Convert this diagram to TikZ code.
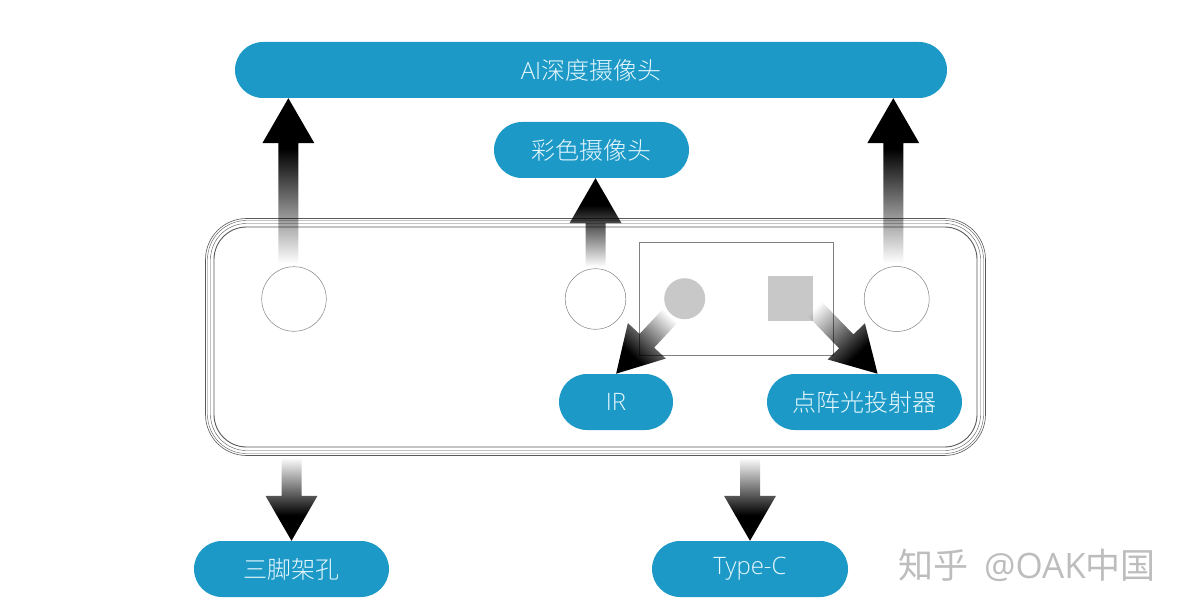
\documentclass[tikz,border=0pt]{standalone}
\usepackage{fontspec}
\usetikzlibrary{calc,shapes.misc}
\setmainfont{Noto Sans CJK SC Light}
\newfontfamily\markfont{Noto Sans CJK SC}
\newfontfamily\latinfont{Open Sans Light}
\newfontfamily\marklatin{Open Sans}
\definecolor{pillblue}{HTML}{1C99C7}
\definecolor{partgray}{HTML}{C8C8C8}
\definecolor{markgray}{HTML}{BDBDBD}
\pgfdeclarehorizontalshading{arrowfade}{100bp}{color(0bp)=(white); color(26bp)=(white); color(60bp)=(black); color(100bp)=(black)}
\tikzset{
	pill/.style={rounded rectangle,fill=pillblue,text=white!90!cyan,minimum height=56pt,inner sep=0pt,font=\fontsize{24}{24}\selectfont},
	hole/.style={circle,draw=gray,line width=.5pt,inner sep=0pt},
	shell/.style={draw=black!65,inner sep=0pt}
}
\newcommand{\fadearrow}[2]{
	\path let \p1=($(#2)-(#1)$),\n1={atan2(\y1,\x1)},\n2={veclen(\x1,\y1)} in \pgfextra{\xdef\arrowang{\n1}\xdef\arrowlen{\n2}};
	\pgfmathsetmacro\arrowbase{\arrowlen-45}
	\begin{scope}[blend mode=multiply,transform canvas={shift={(#1)},rotate=\arrowang}]
		\shade[shading=arrowfade,x=1pt,y=1pt] (0,-10) -- (\arrowbase,-10) -- (\arrowbase,-26) -- (\arrowlen,0) -- (\arrowbase,26) -- (\arrowbase,10) -- (0,10) -- cycle;
	\end{scope}
}
\begin{document}
\begin{tikzpicture}[x=1pt,y=-1pt]
	\useasboundingbox (0,0) rectangle (1182,612);
	% outer shell
	\foreach \n/\inset/\rad/\wid in {0/0/41/.6,1/2/39/.4,2/5/36/.4,3/8.5/32.5/.9}
		\node[shell,line width=\wid pt,rounded corners=\rad pt,minimum width={780pt-2*\inset pt},minimum height={237pt-2*\inset pt}] (body\n) at (595.5,337) {};
	\node[draw=gray,line width=.5pt,inner sep=0pt,minimum width=193.5pt,minimum height=113pt] (module) at (736,298.8) {};
	\node[hole,minimum size=64.6pt] (leftcam) at (294,299) {};
	\node[hole,minimum size=60.6pt] (midcam) at (595.5,299) {};
	\node[hole,minimum size=65pt] (rightcam) at (896.7,299) {};
	% labels
	\node[pill,minimum width=712pt] (aicam) at (591,70) {{\latinfont AI}深度摄像头};
	\node[pill,minimum width=195pt] (colorcam) at (591.5,150) {彩色摄像头};
	\node[pill,minimum width=114pt] (ir) at (616,402) {\latinfont IR};
	\node[pill,minimum width=195pt] (dotproj) at (864.5,402) {点阵光投射器};
	\node[pill,minimum width=195pt] (tripod) at (291.5,569) {三脚架孔};
	\node[pill,minimum width=196pt] (typec) at (750,569) {\latinfont Type-C};
	\node[circle,fill=partgray,inner sep=0pt,minimum size=41pt] (irled) at (684.7,298.7) {};
	\node[fill=partgray,inner sep=0pt,minimum size=44.5pt] (dotsrc) at (790.4,298.7) {};
	% arrows
	\fadearrow{leftcam.100}{aicam.south -| leftcam.100}
	\fadearrow{midcam.north}{colorcam.south -| midcam.north}
	\fadearrow{rightcam.96}{aicam.south -| rightcam.96}
	\fadearrow{irled.230}{ir.north}
	\fadearrow{dotsrc.-20}{dotproj.65}
	\fadearrow{body0.south -| tripod.north}{tripod.north}
	\fadearrow{body0.south -| typec.north}{typec.north}
	\node[text=markgray,anchor=west,inner sep=0pt,font=\markfont\fontsize{35}{35}\selectfont] (mark) at (898,565) {知乎\hspace{16pt}{\marklatin @OAK}中国};
\end{tikzpicture}
\end{document}
